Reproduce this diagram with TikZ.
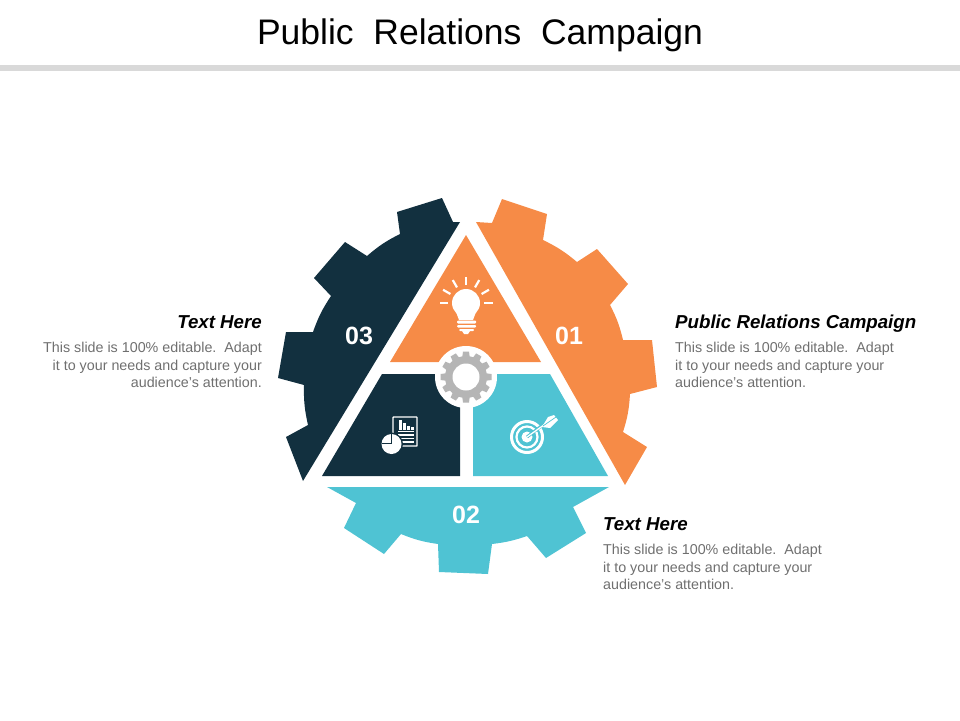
\documentclass[tikz,border=0pt]{standalone}
\usepackage{fontspec}
\setmainfont{Liberation Sans}
\usetikzlibrary{positioning}
\definecolor{navy}{HTML}{12303F}
\definecolor{peach}{HTML}{F68B47}
\definecolor{aqua}{HTML}{4FC3D3}
\definecolor{cog}{HTML}{B5B5B5}
\definecolor{bodygray}{HTML}{6F6F6F}
\tikzset{
  num/.style={text=white,font=\bfseries\fontsize{25}{25}\selectfont,inner sep=0pt},
  head/.style={font=\bfseries\itshape\fontsize{18.7}{20}\selectfont,inner sep=0pt,text height=14pt,text depth=4pt},
  para/.style={text=bodygray,font=\fontsize{14.3}{17.6}\selectfont,inner sep=0pt},
  ray/.style={draw=white,line width=2.2pt}
}
\begin{document}
\begin{tikzpicture}[x=1pt,y=-1pt]
  \useasboundingbox (0,0) rectangle (960,720);
  \node[font=\fontsize{35.5}{40}\selectfont,inner sep=0pt] (title) at (480,35) {Public\ \ Relations\ \ Campaign};
  \fill[gray!30] (0,65) rectangle (960,70.5);

  % outer gear parts
  \fill[navy] (460,222) -- (453,222) -- (442,198) -- (397,212) -- (400,234) to[bend right=7] (367,256)
     -- (345,242) -- (314,278) -- (331,296) to[bend right=7] (313,332) -- (286,332) -- (278,378) -- (304,385)
     to[bend right=7] (308,425) -- (286,437) -- (303,481) -- cycle;
  \fill[peach] (476,222) -- (492,223) -- (502,199) -- (547,214) -- (543,240) to[bend left=7] (577,262)
     -- (597,249) -- (628,284) -- (610,305) to[bend left=7] (623,340) -- (652,340) -- (657,387) -- (630,394)
     to[bend left=7] (623,432) -- (647,447) -- (625,485) -- cycle;
  \fill[aqua] (327,487) -- (609,487) -- (573,507) -- (586,533) -- (546,558) -- (527,536) to[bend left=6] (492,544)
     -- (488,574) -- (439,572) -- (438,544) to[bend left=7] (401,534) -- (384,554) -- (344,528) -- (356,503) -- cycle;

  % inner parts
  \fill[peach] (466,235) -- (541,362) -- (390,362) -- cycle;
  \fill[navy] (382,374) -- (460,374) -- (460,476) -- (322,476) -- cycle;
  \fill[aqua] (473,374) -- (550,374) -- (608,476) -- (473,476) -- cycle;

  % cog in the middle
  \fill[white] (466,377) circle (31);
  \fill[cog] (466,377) circle (21);
  \foreach \a in {0,30,...,330}
    \fill[cog,rotate around={\a:(466,377)}] (462.3,357) -- (469.7,357) -- (469,351.5) -- (463,351.5) -- cycle;
  \fill[white] (466,377) circle (13.5);

  % bulb
  \fill[white] (466,303) circle (14);
  \fill[white] (456,312) -- (476,312) -- (473,320) -- (459,320) -- cycle;
  \fill[white,rounded corners=1pt] (457,320.5) rectangle (476,323.5);
  \fill[white,rounded corners=1pt] (457,325) rectangle (476,327.5);
  \fill[white,rounded corners=1pt] (459,329) rectangle (474,331);
  \fill[white] (462,331) -- (470,331) -- (468,334) -- (464,334) -- cycle;
  \foreach \a in {0,30,...,180}
    \draw[ray] ({466+18*cos(\a)},{303-18*sin(\a)}) -- ({466+26.5*cos(\a)},{303-26.5*sin(\a)});

  % report
  \draw[white,line width=1.4pt,rounded corners=0.5pt] (393,417) rectangle (417,446);
  \foreach \x/\t in {398.5/420,402.5/423,406.5/425.5,410.5/427}
    \fill[white] (\x,\t) rectangle ++(3,{429.5-\t});
  \foreach \t in {431.5,435,438.5,442}
    \draw[white,line width=1.4pt] (398,\t) -- (414,\t);
  \fill[navy] (391.5,444) circle (11.5);
  \fill[white] (391.5,444) circle (10);
  \draw[navy,line width=0.8pt] (381.5,443.5) -- (391,443.5) -- (391,434);

  % target
  \draw[white,line width=3pt] (527,437) circle (15.5);
  \draw[white,line width=2.2pt] (527,437) circle (10.5);
  \fill[white] (527,437) circle (5.5);
  \draw[aqua,line width=3pt] (527,437) -- (548,421);
  \draw[white,line width=1.3pt] (527,437) -- (548,422);
  \fill[white] (542,427) -- (548,417) -- (554,415) -- (558,420) -- (550,428) -- cycle;
  \draw[aqua,line width=0.7pt] (543,426) -- (556,417);

  \node[num] (num_3) at (359,335.5) {03};
  \node[num] (num_1) at (569,335.5) {01};
  \node[num] (num_2) at (466,514.5) {02};

  \node[head,anchor=east] (head_3) at (262,323) {Text Here};
  \node[para,align=right,below left=10pt and 0pt of head_3.south east] (para_3)
    {This slide is 100\% editable.\ \ Adapt\\it to your needs and capture your\\audience's attention.};
  \node[head,anchor=west] (head_1) at (675,323) {Public Relations Campaign};
  \node[para,align=left,below right=10pt and 0pt of head_1.south west] (para_1)
    {This slide is 100\% editable.\ \ Adapt\\it to your needs and capture your\\audience's attention.};
  \node[head,anchor=west] (head_2) at (603,525) {Text Here};
  \node[para,align=left,below right=10pt and 0pt of head_2.south west] (para_2)
    {This slide is 100\% editable.\ \ Adapt\\it to your needs and capture your\\audience's attention.};
\end{tikzpicture}
\end{document}
